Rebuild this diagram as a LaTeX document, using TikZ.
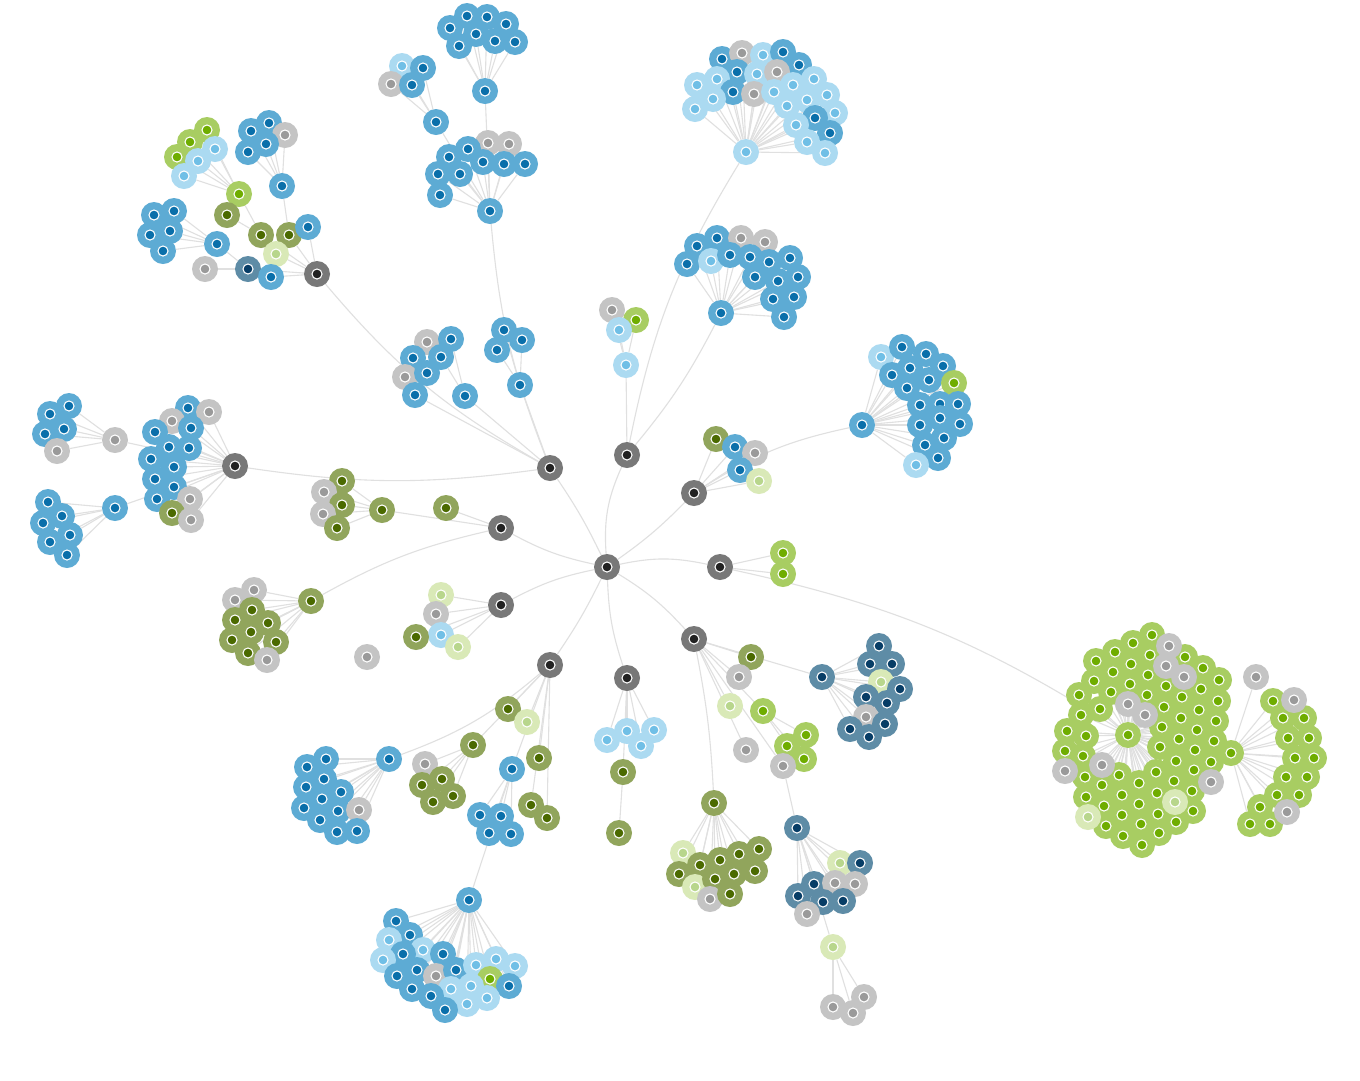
\documentclass[tikz,border=0pt]{standalone}
\pgfdeclarelayer{bgw}
\pgfdeclarelayer{edges}
\pgfsetlayers{bgw,edges,main}
\definecolor{cH}{HTML}{787878}\definecolor{cHd}{HTML}{222222}
\definecolor{cB}{HTML}{5DABD4}\definecolor{cBd}{HTML}{0A6FAA}
\definecolor{cL}{HTML}{ABDAF1}\definecolor{cLd}{HTML}{70BFE6}
\definecolor{cG}{HTML}{C4C4C4}\definecolor{cGd}{HTML}{9A9A9A}
\definecolor{cO}{HTML}{91A55C}\definecolor{cOd}{HTML}{4B6A00}
\definecolor{cLG}{HTML}{A8CD62}\definecolor{cLGd}{HTML}{6FAD00}
\definecolor{cP}{HTML}{D9E9B7}\definecolor{cPd}{HTML}{B8D68C}
\definecolor{cS}{HTML}{5E8CA6}\definecolor{cSd}{HTML}{073D66}
\definecolor{cE}{HTML}{E0E0E0}
\tikzset{
  mk/.style 2 args={circle, minimum size=26pt, inner sep=0pt, draw=none, fill=#1,
    path picture={\fill[white] (path picture bounding box.center) circle (5.6pt);
                  \fill[#2] (path picture bounding box.center) circle (4.3pt);}},
  nH/.style={mk={cH}{cHd}}, nB/.style={mk={cB}{cBd}}, nL/.style={mk={cL}{cLd}},
  nG/.style={mk={cG}{cGd}}, nO/.style={mk={cO}{cOd}}, nLG/.style={mk={cLG}{cLGd}},
  nP/.style={mk={cP}{cPd}}, nS/.style={mk={cS}{cSd}},
  lnk/.style={draw=cE, line width=1.1pt},
}
\newcommand\ND[4]{\node[#4] (#1) at (#2,#3) {};}
\newcommand\EE[2]{\begin{pgfonlayer}{edges}\foreach \kid in {#2}{\draw[lnk] (#1) -- (\kid);}\end{pgfonlayer}}
\newcommand\EB[3]{\begin{pgfonlayer}{edges}\draw[lnk] (#1) to[#3] (#2);\end{pgfonlayer}}
\begin{document}
\begin{tikzpicture}[x=1pt,y=-1pt]
\begin{pgfonlayer}{bgw}\fill[white] (0,0) rectangle (1360,1080);\end{pgfonlayer}
\useasboundingbox (0,0) rectangle (1360,1080);
% hubs
\ND{C0}{607}{567}{nH}
\ND{H1}{550}{468}{nH}
\ND{H2}{627}{455}{nH}
\ND{H3}{694}{493}{nH}
\ND{H4}{720}{567}{nH}
\ND{H5}{694}{639}{nH}
\ND{H6}{627}{678}{nH}
\ND{H7}{550}{665}{nH}
\ND{H8}{501}{605}{nH}
\ND{H9}{501}{528}{nH}
\ND{H10}{235}{466}{nH}
\ND{aH}{317}{274}{nH}
\EB{C0}{H1}{bend right=4}
\EB{C0}{H2}{bend left=14}
\EB{C0}{H3}{bend right=5}
\EB{C0}{H4}{bend left=12}
\EB{C0}{H5}{bend left=8}
\EB{C0}{H6}{bend right=8}
\EB{C0}{H7}{bend left=4}
\EB{C0}{H8}{bend right=8}
\EB{C0}{H9}{bend left=8}
\EB{H1}{H10}{bend left=8}
\EB{H1}{aH}{bend left=10}
% cluster A
\ND{a1}{207}{130}{nLG}\ND{a2}{190}{142}{nLG}\ND{a3}{177}{157}{nLG}
\ND{a4}{215}{149}{nL}\ND{a5}{198}{161}{nL}\ND{a6}{184}{176}{nL}
\ND{a7}{251}{131}{nB}\ND{a8}{269}{123}{nB}\ND{a9}{285}{135}{nG}
\ND{a10}{248}{152}{nB}\ND{a11}{266}{144}{nB}\ND{a12}{282}{186}{nB}
\ND{a13}{239}{194}{nLG}\ND{a14}{227}{215}{nO}
\ND{a15}{154}{215}{nB}\ND{a16}{174}{211}{nB}\ND{a17}{150}{235}{nB}
\ND{a18}{170}{231}{nB}\ND{a19}{163}{251}{nB}\ND{a20}{217}{244}{nB}
\ND{a21}{261}{235}{nO}\ND{a22}{289}{235}{nO}\ND{a23}{308}{227}{nB}
\ND{a24}{276}{254}{nP}\ND{a25}{205}{269}{nG}\ND{a26}{248}{269}{nS}
\ND{a27}{271}{277}{nB}
\EE{aH}{a21,a22,a23,a24,a26,a27}
\EE{a26}{a25,a20}
\EE{a20}{a15,a16,a17,a18,a19}
\EE{a21}{a13,a14}
\EE{a13}{a1,a2,a3,a4,a5,a6}
\EE{a22}{a12}
\EE{a12}{a7,a8,a9,a10,a11}
% cluster B
\ND{b1}{427}{342}{nG}\ND{b2}{451}{339}{nB}\ND{b3}{413}{358}{nB}
\ND{b4}{441}{357}{nB}\ND{b5}{405}{377}{nG}\ND{b6}{427}{373}{nB}
\ND{b7}{415}{395}{nB}\ND{b8}{465}{396}{nB}
\EE{H1}{b7,b8}
\EE{b7}{b5,b3,b1,b6}
\EE{b8}{b2,b4}
% cluster C
\ND{c1}{504}{330}{nB}\ND{c2}{522}{340}{nB}\ND{c3}{497}{350}{nB}\ND{c4}{520}{385}{nB}
\EE{H1}{c4}
\EE{c4}{c1,c2,c3}
% cluster D
\ND{dT}{485}{91}{nB}
\ND{d1}{450}{28}{nB}\ND{d2}{467}{16}{nB}\ND{d3}{487}{17}{nB}\ND{d4}{506}{24}{nB}
\ND{d5}{459}{46}{nB}\ND{d6}{476}{34}{nB}\ND{d7}{495}{41}{nB}\ND{d8}{515}{42}{nB}
\ND{dL}{436}{122}{nB}
\ND{d9}{402}{66}{nL}\ND{d10}{423}{68}{nB}\ND{d11}{391}{84}{nG}\ND{d12}{412}{85}{nB}
\ND{dP}{490}{211}{nB}
\ND{d13}{488}{143}{nG}\ND{d14}{509}{144}{nG}\ND{d15}{449}{157}{nB}\ND{d16}{468}{149}{nB}
\ND{d17}{483}{162}{nB}\ND{d18}{504}{164}{nB}\ND{d19}{525}{164}{nB}\ND{d20}{438}{174}{nB}
\ND{d21}{460}{174}{nB}\ND{d22}{440}{195}{nB}
\EB{H1}{dP}{bend left=8}
\EE{dP}{d13,d14,d15,d16,d17,d18,d19,d20,d21,d22,dT,dL}
\EE{dT}{d1,d2,d3,d4,d5,d6,d7,d8}
\EE{dL}{d9,d10,d11,d12}
% cluster E
\ND{eP}{746}{152}{nL}
\ND{e1}{722}{59}{nB}\ND{e2}{742}{53}{nG}\ND{e3}{763}{55}{nL}\ND{e4}{783}{52}{nB}
\ND{e5}{799}{65}{nB}\ND{e6}{737}{72}{nB}\ND{e7}{757}{74}{nL}\ND{e8}{777}{72}{nG}
\ND{e9}{697}{85}{nL}\ND{e10}{717}{79}{nL}\ND{e11}{733}{92}{nB}\ND{e12}{754}{94}{nG}
\ND{e13}{774}{92}{nL}\ND{e14}{793}{85}{nL}\ND{e15}{814}{79}{nL}\ND{e16}{713}{99}{nL}
\ND{e17}{695}{109}{nL}\ND{e18}{787}{106}{nL}\ND{e19}{807}{100}{nL}\ND{e20}{827}{95}{nL}
\ND{e21}{835}{113}{nL}\ND{e22}{815}{118}{nB}\ND{e23}{796}{125}{nL}\ND{e24}{830}{133}{nB}
\ND{e25}{807}{142}{nL}\ND{e26}{825}{153}{nL}
\EB{H2}{eP}{bend left=10}
\EE{eP}{e1,e2,e3,e4,e5,e6,e7,e8,e9,e10,e11,e12,e13,e14,e15,e16,e17,e18,e19,e20,e21,e22,e23,e24,e25,e26}
% cluster F
\ND{fP}{721}{313}{nB}
\ND{f1}{697}{246}{nB}\ND{f2}{717}{238}{nB}\ND{f3}{741}{238}{nG}\ND{f4}{765}{242}{nG}
\ND{f5}{687}{264}{nB}\ND{f6}{711}{261}{nL}\ND{f7}{730}{255}{nB}\ND{f8}{750}{257}{nB}
\ND{f9}{769}{262}{nB}\ND{f10}{790}{258}{nB}\ND{f11}{755}{277}{nB}\ND{f12}{778}{281}{nB}
\ND{f13}{798}{277}{nB}\ND{f14}{773}{299}{nB}\ND{f15}{794}{297}{nB}\ND{f16}{784}{317}{nB}
\EB{H2}{fP}{bend right=6}
\EE{fP}{f1,f2,f3,f4,f5,f6,f7,f8,f9,f10,f11,f12,f13,f14,f15,f16}
% cluster G
\ND{gP}{626}{365}{nL}\ND{g1}{612}{310}{nG}\ND{g2}{636}{320}{nLG}\ND{g3}{619}{330}{nL}
\EE{H2}{gP}
\EE{gP}{g1,g2,g3}
% cluster I
\ND{iP}{862}{425}{nB}
\ND{i1}{881}{357}{nL}\ND{i2}{902}{347}{nB}\ND{i3}{926}{354}{nB}\ND{i4}{943}{366}{nB}
\ND{i5}{892}{375}{nB}\ND{i6}{910}{368}{nB}\ND{i7}{929}{380}{nB}\ND{i8}{954}{383}{nLG}
\ND{i9}{907}{388}{nB}\ND{i10}{920}{405}{nB}\ND{i11}{940}{404}{nB}\ND{i12}{958}{404}{nB}
\ND{i13}{920}{425}{nB}\ND{i14}{940}{418}{nB}\ND{i15}{960}{424}{nB}\ND{i16}{925}{445}{nB}
\ND{i17}{944}{438}{nB}\ND{i18}{938}{458}{nB}\ND{i19}{916}{465}{nL}
\EE{iP}{i1,i2,i3,i4,i5,i6,i7,i8,i9,i10,i11,i12,i13,i14,i15,i16,i17,i18,i19}
% cluster J
\ND{j1}{716}{439}{nO}\ND{j2}{735}{447}{nB}\ND{j3}{755}{453}{nG}\ND{j4}{740}{470}{nB}\ND{j5}{759}{481}{nP}
\EE{H3}{j1,j2,j3,j4,j5}
\EB{H3}{iP}{bend left=10}
% H4
\ND{k1}{783}{553}{nLG}\ND{k2}{783}{574}{nLG}
\EE{H4}{k1,k2}
\ND{kH}{1128}{735}{nLG}
\ND{kH2}{1231}{753}{nLG}
\EB{H4}{kH}{bend left=10}
\EE{kH}{kH2}
\foreach \x/\y in {1152/635,1133/643,1115/652,1096/661,1150/655,1185/657,1131/664,1113/672,1094/681,1148/675,1203/668,1130/684,1166/686,1219/680,1079/695,1111/692,1147/695,1201/689,1182/697,1218/701,1100/709,1164/707,1199/710,1081/715,1216/721,1181/718,1162/727,1067/731,1086/736,1197/730,1214/741,1179/739,1160/747,1065/751,1083/756,1195/750,1211/762,1176/761,1156/772,1119/775,1085/777,1194/770,1139/783,1174/781,1102/785,1086/797,1122/795,1157/793,1192/791,1104/806,1139/804,1122/815,1158/814,1193/811,1106/826,1141/824,1176/822,1123/836,1159/833,1142/845}
  {\node[nLG] (kg-\x-\y) at (\x,\y) {};
   \begin{pgfonlayer}{edges}\draw[lnk] (kH) -- (kg-\x-\y);\end{pgfonlayer}}
\foreach \x/\y in {1169/646,1166/666,1184/677,1128/704,1145/715,1102/765,1065/771,1211/782}
  {\node[nG] (kq-\x-\y) at (\x,\y) {};
   \begin{pgfonlayer}{edges}\draw[lnk] (kH) -- (kq-\x-\y);\end{pgfonlayer}}
\foreach \x/\y in {1175/802,1088/817}
  {\node[nP] (kp-\x-\y) at (\x,\y) {};
   \begin{pgfonlayer}{edges}\draw[lnk] (kH) -- (kp-\x-\y);\end{pgfonlayer}}
\foreach \x/\y in {1273/701,1283/718,1304/718,1288/738,1309/738,1295/758,1314/758,1286/777,1307/777,1277/795,1299/795,1260/807,1250/824,1270/824}
  {\node[nLG] (kr-\x-\y) at (\x,\y) {};
   \begin{pgfonlayer}{edges}\draw[lnk] (kH2) -- (kr-\x-\y);\end{pgfonlayer}}
\foreach \x/\y in {1256/677,1294/700,1287/812}
  {\node[nG] (ks-\x-\y) at (\x,\y) {};
   \begin{pgfonlayer}{edges}\draw[lnk] (kH2) -- (ks-\x-\y);\end{pgfonlayer}}
% cluster L
\ND{lP}{822}{677}{nS}
\ND{l1}{879}{646}{nS}\ND{l2}{870}{664}{nS}\ND{l3}{892}{664}{nS}\ND{l4}{881}{682}{nP}
\ND{l5}{900}{689}{nS}\ND{l6}{866}{697}{nS}\ND{l7}{887}{703}{nS}\ND{l8}{866}{717}{nG}
\ND{l9}{885}{724}{nS}\ND{l10}{850}{729}{nS}\ND{l11}{869}{737}{nS}
\EE{lP}{l1,l2,l3,l4,l5,l6,l7,l8,l9,l10,l11}
% H5 children
\ND{m0}{751}{657}{nO}\ND{m1}{739}{677}{nG}\ND{m2}{730}{706}{nP}\ND{m3}{763}{711}{nLG}
\ND{m4}{746}{750}{nG}\ND{m5}{787}{746}{nLG}\ND{m6}{806}{735}{nLG}\ND{m7}{804}{759}{nLG}
\ND{m8}{783}{766}{nG}
\ND{oP}{714}{803}{nO}
\ND{nP}{797}{828}{nS}
\EE{H5}{m0,m1,m2,m3,m4,m8,lP}
\EB{H5}{oP}{bend left=4}
\EE{m3}{m5,m6,m7}
\EE{m8}{nP}
% cluster olive bottom
\ND{o1}{683}{853}{nP}\ND{o2}{700}{865}{nO}\ND{o3}{720}{860}{nO}\ND{o4}{739}{854}{nO}
\ND{o5}{759}{849}{nO}\ND{o6}{679}{874}{nO}\ND{o7}{695}{887}{nP}\ND{o8}{715}{879}{nO}
\ND{o9}{734}{874}{nO}\ND{o10}{755}{871}{nO}\ND{o11}{710}{899}{nG}\ND{o12}{730}{894}{nO}
\EE{oP}{o1,o2,o3,o4,o5,o6,o7,o8,o9,o10,o11,o12}
% cluster steel bottom
\ND{n1}{840}{863}{nP}\ND{n2}{860}{863}{nS}\ND{n3}{814}{884}{nS}\ND{n4}{835}{883}{nG}
\ND{n5}{855}{884}{nG}\ND{n6}{798}{896}{nS}\ND{n7}{823}{902}{nS}\ND{n8}{843}{901}{nS}
\ND{n9}{807}{914}{nG}\ND{n10}{833}{947}{nP}
\ND{n11}{864}{997}{nG}\ND{n12}{833}{1007}{nG}\ND{n13}{853}{1013}{nG}
\EE{nP}{n1,n2,n3,n4,n5,n6,n7,n8,n9,n10}
\EE{n10}{n11,n12,n13}
% H6
\ND{p1}{607}{740}{nL}\ND{p2}{627}{731}{nL}\ND{p3}{654}{730}{nL}\ND{p4}{641}{746}{nL}
\ND{p5}{623}{772}{nO}\ND{p6}{619}{833}{nO}
\EE{H6}{p1,p2,p3,p4,p5}
\EE{p5}{p6}
% H7
\ND{q1}{508}{709}{nO}\ND{q2}{527}{722}{nP}\ND{q3}{473}{745}{nO}\ND{qB}{389}{759}{nB}
\ND{q4}{539}{758}{nO}\ND{q5}{512}{769}{nB}\ND{q6}{531}{805}{nO}\ND{q7}{547}{818}{nO}
\ND{q8}{425}{764}{nG}\ND{q9}{442}{779}{nO}\ND{q10}{422}{785}{nO}\ND{q11}{453}{796}{nO}\ND{q12}{433}{802}{nO}
\ND{q13}{480}{815}{nB}\ND{q14}{501}{816}{nB}\ND{q15}{489}{833}{nB}\ND{q16}{511}{834}{nB}
\EE{H7}{q1,q2,q3,q4,q5,q6,q7}
\EB{H7}{qB}{bend left=10}
\EE{q3}{q8,q9,q10,q11,q12}
\EE{q5}{q13,q14,q15,q16}
\ND{r1}{326}{759}{nB}\ND{r2}{307}{767}{nB}\ND{r3}{324}{779}{nB}\ND{r4}{306}{787}{nB}
\ND{r5}{341}{792}{nB}\ND{r6}{322}{799}{nB}\ND{r7}{304}{808}{nB}\ND{r8}{338}{811}{nB}
\ND{r9}{359}{810}{nG}\ND{r10}{320}{820}{nB}\ND{r11}{337}{832}{nB}\ND{r12}{357}{831}{nB}
\EE{qB}{r1,r2,r3,r4,r5,r6,r7,r8,r9,r10,r11,r12}
% bottom blue cluster
\ND{sP}{469}{900}{nB}
\EE{q5}{sP}
\ND{s1}{396}{921}{nB}\ND{s2}{410}{935}{nB}\ND{s3}{389}{940}{nL}\ND{s4}{423}{950}{nL}
\ND{s5}{403}{954}{nB}\ND{s6}{443}{954}{nB}\ND{s7}{383}{960}{nL}\ND{s8}{417}{970}{nB}
\ND{s9}{436}{976}{nG}\ND{s10}{456}{970}{nB}\ND{s11}{476}{965}{nL}\ND{s12}{496}{959}{nL}
\ND{s13}{515}{966}{nL}\ND{s14}{397}{976}{nB}\ND{s15}{490}{979}{nLG}\ND{s16}{509}{986}{nB}
\ND{s17}{451}{989}{nL}\ND{s18}{471}{986}{nL}\ND{s19}{412}{989}{nB}\ND{s20}{431}{996}{nB}
\ND{s21}{487}{998}{nL}\ND{s22}{467}{1004}{nL}\ND{s23}{445}{1010}{nB}
\EE{sP}{s1,s2,s3,s4,s5,s6,s7,s8,s9,s10,s11,s12,s13,s14,s15,s16,s17,s18,s19,s20,s21,s22,s23}
% H8
\ND{t1}{441}{595}{nP}\ND{t2}{436}{614}{nG}\ND{t3}{441}{635}{nL}\ND{t4}{458}{647}{nP}
\ND{t5}{416}{637}{nO}\ND{t6}{367}{657}{nG}
\EE{H8}{t1,t2,t3,t4,t5}
% H9
\ND{u1}{446}{508}{nO}\ND{u2}{382}{510}{nO}
\ND{u3}{342}{481}{nO}\ND{u4}{324}{492}{nG}\ND{u5}{342}{505}{nO}\ND{u6}{323}{514}{nG}\ND{u7}{337}{528}{nO}
\EE{H9}{u1,u2}
\EE{u2}{u3,u4,u5,u6,u7}
\ND{vP}{311}{601}{nO}
\EB{H9}{vP}{bend right=8}
\ND{v1}{235}{600}{nG}\ND{v2}{254}{590}{nG}\ND{v3}{252}{610}{nO}\ND{v4}{235}{620}{nO}
\ND{v5}{268}{623}{nO}\ND{v6}{251}{632}{nO}\ND{v7}{232}{640}{nO}\ND{v8}{276}{642}{nO}
\ND{v9}{248}{653}{nO}\ND{v10}{267}{660}{nG}
\EE{vP}{v1,v2,v3,v4,v5,v6,v7,v8,v9,v10}
% H10
\ND{w1}{188}{408}{nB}\ND{w2}{209}{412}{nG}\ND{w3}{172}{421}{nG}\ND{w4}{155}{432}{nB}
\ND{w5}{191}{428}{nB}\ND{w6}{169}{447}{nB}\ND{w7}{189}{448}{nB}\ND{w8}{151}{459}{nB}
\ND{w9}{174}{467}{nB}\ND{w10}{155}{479}{nB}\ND{w11}{174}{487}{nB}\ND{w12}{157}{499}{nB}
\ND{w13}{190}{499}{nG}\ND{w14}{172}{513}{nO}\ND{w15}{191}{520}{nG}
\ND{wA}{115}{440}{nG}\ND{wB}{115}{508}{nB}
\EE{H10}{w1,w2,w3,w4,w5,w6,w7,w8,w9,w10,w11,w12,w13,w14,w15,wA,wB}
\ND{x1}{69}{406}{nB}\ND{x2}{50}{414}{nB}\ND{x3}{64}{429}{nB}\ND{x4}{45}{434}{nB}\ND{x5}{57}{451}{nG}
\EE{wA}{x1,x2,x3,x4,x5}
\ND{y1}{48}{502}{nB}\ND{y2}{62}{516}{nB}\ND{y3}{43}{523}{nB}\ND{y4}{70}{535}{nB}\ND{y5}{50}{542}{nB}\ND{y6}{67}{555}{nB}
\EE{wB}{y1,y2,y3,y4,y5,y6}
\end{tikzpicture}
\end{document}
